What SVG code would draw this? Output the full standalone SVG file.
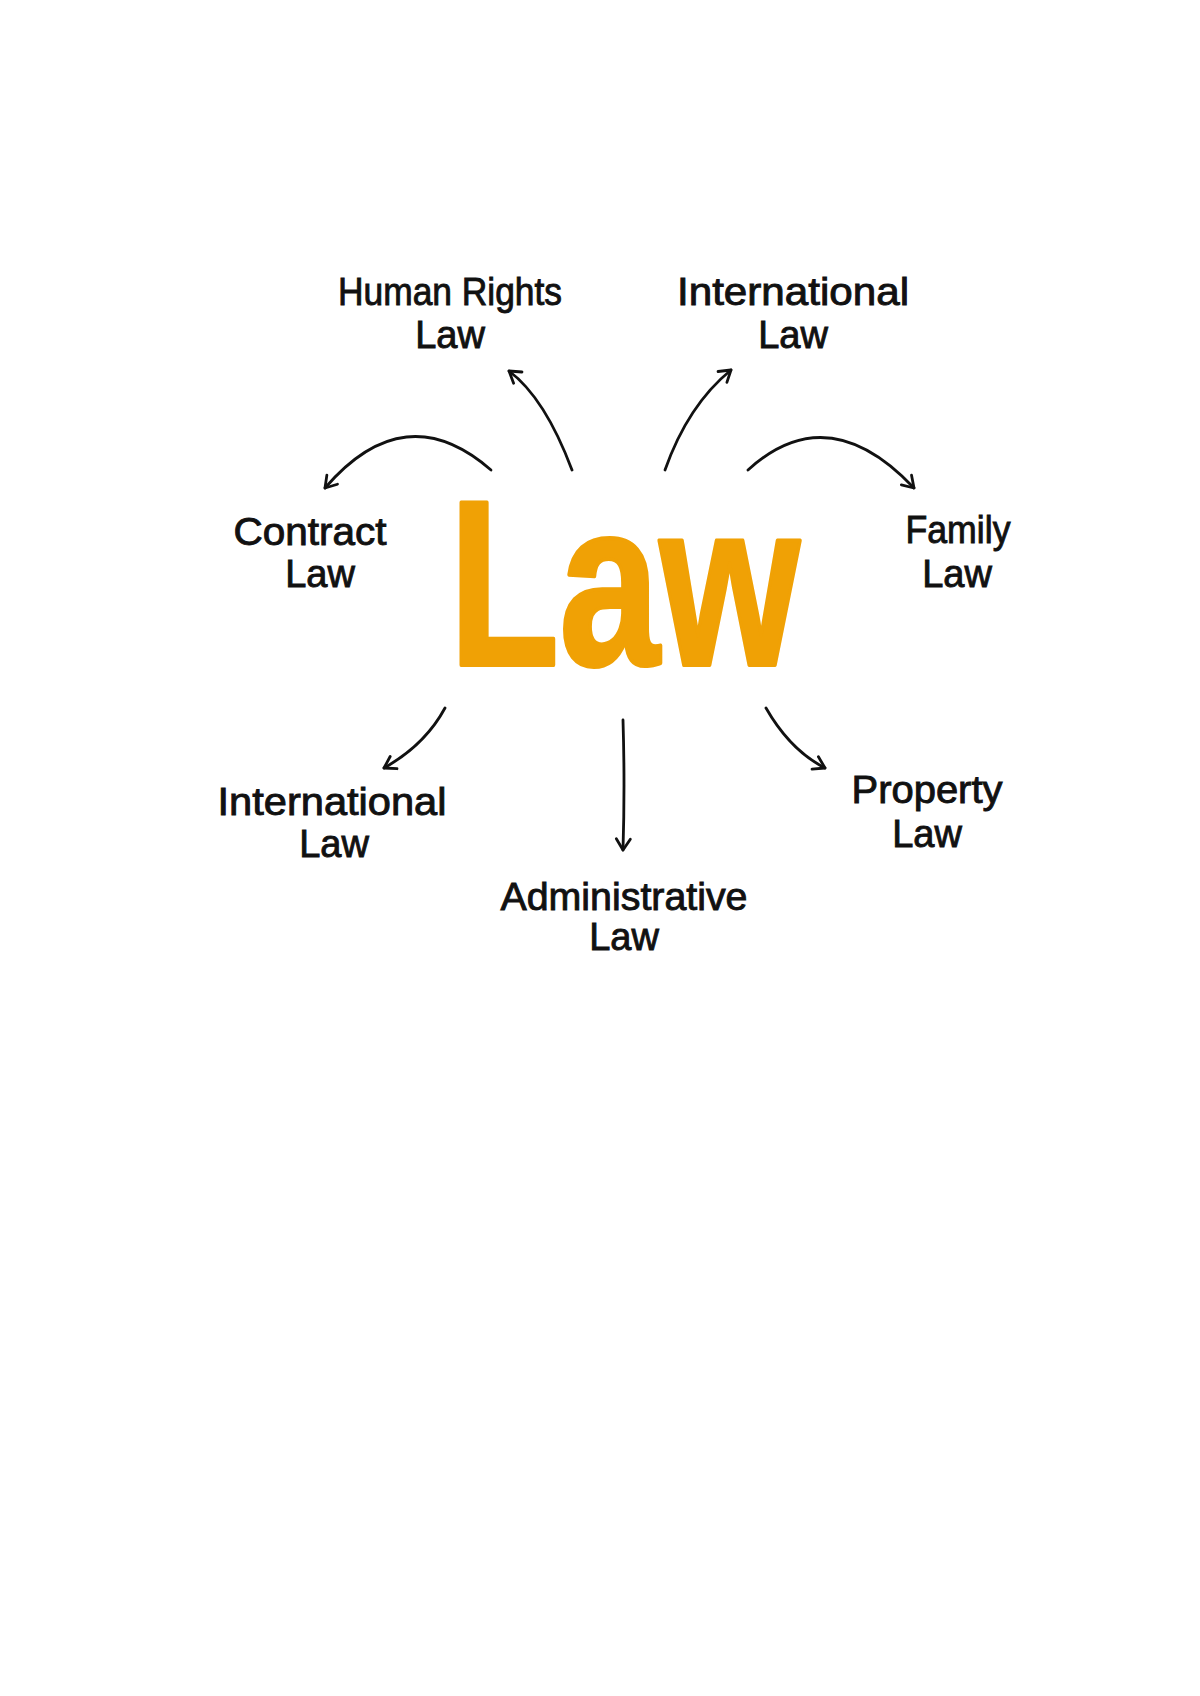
<svg xmlns="http://www.w3.org/2000/svg" width="1200" height="1696" viewBox="0 0 1200 1696">
<defs>
<marker id="ah" viewBox="-14 -10 18 20" markerWidth="18" markerHeight="20" refX="0" refY="0" orient="auto" markerUnits="userSpaceOnUse">
<path d="M -11 -7 L 0 0 L -11 7" fill="none" stroke="#111" stroke-width="2.8" stroke-linecap="round" stroke-linejoin="round"/>
</marker>
<style>
.lbl{font-family:"Liberation Sans","Noto Sans",sans-serif;font-size:38px;fill:#111;stroke:#111;stroke-width:0.9;text-anchor:middle}
.arr{fill:none;stroke:#111;stroke-width:2.8;stroke-linecap:round;marker-end:url(#ah)}
.main{font-family:"Liberation Sans","DejaVu Sans",sans-serif;font-weight:bold;font-size:236px;fill:#F0A105;stroke:#F0A105;stroke-width:4;stroke-linejoin:round}
</style>
</defs>
<rect width="1200" height="1696" fill="#fff"/>
<g id="center">
<text class="main" x="449" y="665" textLength="351" lengthAdjust="spacingAndGlyphs">Law</text>
</g>
<g id="connectors">
<path class="arr" d="M 572 470 Q 545 398 509 371"/>
<path class="arr" d="M 665 470 Q 688 405 731 370"/>
<path class="arr" d="M 491 470 Q 405 395 325 488"/>
<path class="arr" d="M 748 470 Q 828 397 914 488"/>
<path class="arr" d="M 445 708 Q 425 745 384 768"/>
<path class="arr" d="M 623 720 Q 625 785 623 850"/>
<path class="arr" d="M 766 708 Q 790 750 825 768"/>
</g>
<g id="human-rights">
<text class="lbl" x="450" y="305" textLength="224" lengthAdjust="spacingAndGlyphs">Human Rights</text>
<text class="lbl" x="450" y="348">Law</text>
</g>
<g id="international-top">
<text class="lbl" x="793" y="305" textLength="232" lengthAdjust="spacingAndGlyphs">International</text>
<text class="lbl" x="793" y="348">Law</text>
</g>
<g id="contract">
<text class="lbl" x="310" y="545" textLength="153" lengthAdjust="spacingAndGlyphs">Contract</text>
<text class="lbl" x="320" y="587">Law</text>
</g>
<g id="family">
<text class="lbl" x="958" y="543" textLength="105" lengthAdjust="spacingAndGlyphs">Family</text>
<text class="lbl" x="957" y="587">Law</text>
</g>
<g id="international-bottom">
<text class="lbl" x="332" y="815" textLength="229" lengthAdjust="spacingAndGlyphs">International</text>
<text class="lbl" x="334" y="857">Law</text>
</g>
<g id="administrative">
<text class="lbl" x="624" y="910" textLength="247" lengthAdjust="spacingAndGlyphs">Administrative</text>
<text class="lbl" x="624" y="950">Law</text>
</g>
<g id="property">
<text class="lbl" x="927" y="803" textLength="151" lengthAdjust="spacingAndGlyphs">Property</text>
<text class="lbl" x="927" y="847">Law</text>
</g>
</svg>
